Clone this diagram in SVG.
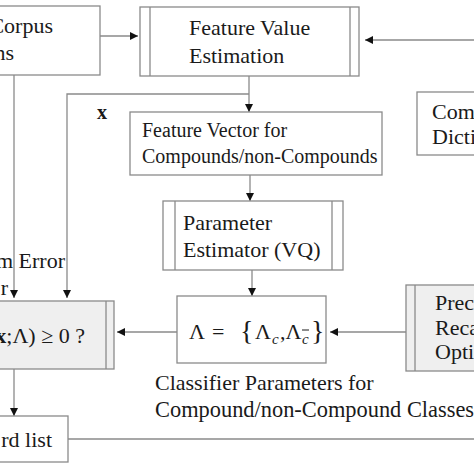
<svg xmlns="http://www.w3.org/2000/svg" width="474" height="474" viewBox="0 0 474 474">
<defs>
<style>
.box{fill:#ffffff;stroke:#8a8a8a;stroke-width:1.3}
.gbox{fill:#efefef;stroke:#8a8a8a;stroke-width:1.3}
.ln{fill:none;stroke:#8a8a8a;stroke-width:1.3}
.t{font-family:"Liberation Serif","Times New Roman",serif;font-size:22px;fill:#1a1a1a}
.t20{font-family:"Liberation Serif","Times New Roman",serif;font-size:20px;fill:#1a1a1a}
</style>
<marker id="ah" markerUnits="userSpaceOnUse" markerWidth="9" markerHeight="9" refX="8" refY="4" orient="auto">
<path d="M0,0 L8,4 L0,8 z" fill="#111"/>
</marker>
</defs>
<rect width="474" height="474" fill="#ffffff"/>

<g id="connectors">
<line class="ln" x1="100" y1="36" x2="138" y2="36" marker-end="url(#ah)"/>
<line class="ln" x1="474" y1="40" x2="365" y2="40" marker-end="url(#ah)"/>
<line class="ln" x1="249" y1="76" x2="249" y2="112" marker-end="url(#ah)"/>
<polyline class="ln" points="249,94 67,94 67,298" marker-end="url(#ah)"/>
<line class="ln" x1="14" y1="75" x2="14" y2="298" marker-end="url(#ah)"/>
<line class="ln" x1="250" y1="175" x2="250" y2="201" marker-end="url(#ah)"/>
<line class="ln" x1="252" y1="270" x2="252" y2="296" marker-end="url(#ah)"/>
<line class="ln" x1="177" y1="332" x2="117" y2="332" marker-end="url(#ah)"/>
<line class="ln" x1="406" y1="332" x2="330" y2="332" marker-end="url(#ah)"/>
<line class="ln" x1="14" y1="369" x2="14" y2="416" marker-end="url(#ah)"/>
<line class="ln" x1="68" y1="439" x2="474" y2="439"/>
<text x="97" y="119" class="t20" style="font-weight:bold">x</text>
</g>

<g id="corpus">
<rect class="box" x="-10" y="6" width="110" height="69"/>
<text class="t" x="53" y="33" text-anchor="end">Corpus</text>
<text class="t" x="14" y="60" text-anchor="end">ns</text>
</g>

<g id="feature-value-estimation">
<rect class="box" x="140" y="7" width="219" height="69"/>
<line class="ln" x1="150" y1="7" x2="150" y2="76"/>
<line class="ln" x1="350" y1="7" x2="350" y2="76"/>
<text class="t" x="189" y="35">Feature Value</text>
<text class="t" x="189" y="63">Estimation</text>
</g>

<g id="compound-dictionary">
<rect class="box" x="417" y="92" width="70" height="63"/>
<text class="t" x="432" y="119">Comp</text>
<text class="t" x="432" y="144">Dicti</text>
</g>

<g id="feature-vector">
<rect class="box" x="130" y="112" width="252" height="63"/>
<text class="t20" x="142" y="137">Feature Vector for</text>
<text class="t20" x="142" y="163">Compounds/non-Compounds</text>
</g>

<g id="parameter-estimator">
<rect class="box" x="163" y="201" width="180" height="69"/>
<line class="ln" x1="175" y1="201" x2="175" y2="270"/>
<line class="ln" x1="332" y1="201" x2="332" y2="270"/>
<text class="t" x="183" y="230">Parameter</text>
<text class="t" x="183" y="257">Estimator (VQ)</text>
</g>

<g id="error-label">
<text class="t" x="65" y="268" text-anchor="end">m Error</text>
<text class="t" x="8" y="295" text-anchor="end">r</text>
</g>

<g id="classifier">
<rect class="gbox" x="-10" y="301" width="124" height="68"/>
<line class="ln" x1="106" y1="301" x2="106" y2="369"/>
<text class="t" x="85" y="343" text-anchor="end"><tspan style="font-weight:bold">x</tspan>;Λ) ≥ 0 ?</text>
</g>

<g id="lambda">
<rect class="box" x="177" y="296" width="149" height="67"/>
<text class="t" x="189" y="339">Λ</text>
<text class="t" x="212" y="339">=</text>
<text class="t" x="240" y="340" style="font-size:28px">{</text>
<text class="t" x="255" y="339">Λ</text>
<text class="t" x="272" y="344" style="font-size:15px;font-style:italic">c</text>
<text class="t" x="280" y="339">,Λ</text>
<text class="t" x="302" y="344" style="font-size:15px;font-style:italic">c</text>
<line x1="302" y1="330" x2="309" y2="330" stroke="#1a1a1a" stroke-width="1"/>
<text class="t" x="311" y="340" style="font-size:28px">}</text>
</g>

<g id="classifier-params-label">
<text class="t" x="155" y="390">Classifier Parameters for</text>
<text class="t" x="155" y="417" style="font-size:22.4px">Compound/non-Compound Classes</text>
</g>

<g id="precision-recall">
<rect class="gbox" x="406" y="285" width="80" height="86"/>
<line class="ln" x1="415" y1="285" x2="415" y2="371"/>
<text class="t" x="435" y="310">Preci</text>
<text class="t" x="435" y="335">Reca</text>
<text class="t" x="435" y="359">Opti</text>
</g>

<g id="word-list">
<rect class="box" x="-10" y="416" width="78" height="46"/>
<text class="t" x="52" y="447" text-anchor="end">rd list</text>
</g>
</svg>
